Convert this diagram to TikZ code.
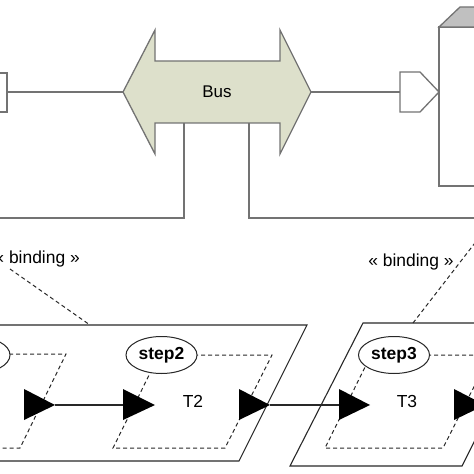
\documentclass[tikz,border=0pt]{standalone}
\usepackage{fontspec}
\setmainfont{Liberation Sans}
\usetikzlibrary{shapes.geometric}
\definecolor{busfill}{RGB}{221,224,203}
\definecolor{topgray}{RGB}{192,192,192}
\definecolor{linegray}{RGB}{115,115,115}
\definecolor{lineblack}{RGB}{40,40,40}
\begin{document}
\begin{tikzpicture}[x=1bp,y=-1bp,
  gline/.style={draw=linegray, line width=1.3bp},
  bline/.style={draw=lineblack, line width=1.1bp},
  dline/.style={draw=lineblack, line width=1bp, dash pattern=on 4bp off 3bp},
  txt/.style={inner sep=0pt, font=\fontsize{17.5}{20}\selectfont},
  stepell/.style={ellipse, draw=lineblack, line width=1bp, fill=white, minimum width=71bp, minimum height=37bp, inner sep=0pt, font=\bfseries\fontsize{17.5}{20}\selectfont},
  tri/.style={fill=black}
]
\useasboundingbox (0,0) rectangle (474,474);
\clip (0,0) rectangle (474,474);

% ---------- top part ----------
\coordinate (lp) at (7,92);
\draw[gline, fill=white] (-5,73) rectangle (7,112);
\coordinate (busL) at (123,92);
\coordinate (busR) at (311,92);
\draw[gline, fill=busfill] (busL) -- (155,30) -- (155,61) -- (280,61) -- (280,30) -- (busR)
  -- (280,154) -- (280,123) -- (155,123) -- (155,154) -- cycle;
\node[txt, font=\fontsize{17}{20}\selectfont] (bus) at (217,92) {Bus};
\draw[gline] (lp) -- (busL);

\coordinate (pp) at (400,92);
\draw[gline, fill=white] (400,72) -- (420,72) -- (439,92) -- (420,112) -- (400,112) -- cycle;
\draw[gline] (busR) -- (pp);

\draw[gline, fill=white] (439,27) rectangle (480,186);
\draw[gline, fill=topgray] (439,27) -- (460,7) -- (480,7) -- (480,27) -- cycle;

\coordinate (b1) at (184,123); \coordinate (e1) at (-5,218);
\coordinate (b2) at (249,123); \coordinate (e2) at (480,218);
\draw[gline] (b1) |- (e1);
\draw[gline] (b2) |- (e2);

% ---------- bottom part ----------
\draw[bline] (-5,325) -- (307,325) -- (239,461) -- (-5,461);
\draw[bline] (480,323) -- (363,323) -- (290,466) -- (462,466) -- (476,438);

\draw[dline] (-5,354) -- (66,354) -- (20,448) -- (-5,448);
\node[stepell] (s1) at (-25.5,355) {};
\draw[dline] (159,355) -- (272,355) -- (225,448) -- (113,448) -- cycle;
\node[stepell] (s2) at (161.5,355) {step2};
\draw[dline] (371,355) -- (490,355) -- (443,448) -- (325,448) -- cycle;
\node[stepell] (s3) at (394,355) {step3};

% ports (triangles)
\coordinate (o1) at (55,405);
\coordinate (i2) at (123,405);
\coordinate (o2) at (270,405);
\coordinate (i3) at (339,405);
\fill[tri] (24,389) -- (o1) -- (24,420) -- cycle;
\fill[tri] (i2) -- (123,389) -- (155,405) -- (123,420) -- cycle;
\fill[tri] (239,389) -- (o2) -- (239,420) -- cycle;
\fill[tri] (i3) -- (339,389) -- (370,405) -- (339,420) -- cycle;
\fill[tri] (454,389) -- (485,405) -- (454,420) -- cycle;
\draw[bline] (o1) -- (i2);
\draw[bline] (o2) -- (i3);

\node[txt] (t2) at (193,401) {T2};
\node[txt] (t3) at (407,401) {T3};

% binding labels
\node[txt, anchor=east] (bd1) at (80,259) {« binding »};
\coordinate (bd1a) at (10,269); \coordinate (bd1b) at (90,325);
\draw[dline] (bd1a) -- (bd1b);
\node[txt] (bd2) at (411,262) {« binding »};
\coordinate (bd2a) at (413,323); \coordinate (bd2b) at (478,239);
\draw[dline] (bd2a) -- (bd2b);
\end{tikzpicture}
\end{document}
